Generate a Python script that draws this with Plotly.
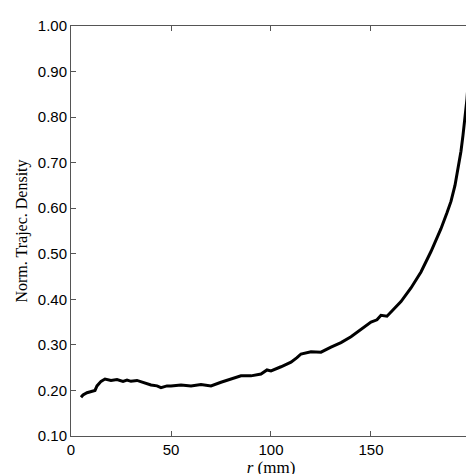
import plotly.graph_objects as go

# rayon (mm) et densité normalisée
r_mm = [5, 6, 8, 10, 12, 13, 15, 17, 20, 23, 26, 28, 30, 33, 36, 40, 43, 45, 48, 50,
        55, 60, 65, 70, 75, 80, 85, 90, 95, 98, 100, 105, 110, 113, 115, 120, 125,
        130, 135, 140, 145, 150, 153, 155, 158, 160, 165, 170, 175, 180, 183, 185,
        188, 190, 192, 194, 195, 196, 197, 198, 199, 199.5, 200]
density = [0.185, 0.19, 0.195, 0.198, 0.2, 0.21, 0.22, 0.225, 0.222, 0.224, 0.22, 0.223,
           0.22, 0.222, 0.218, 0.212, 0.21, 0.206, 0.21, 0.21, 0.212, 0.21, 0.213, 0.21,
           0.218, 0.225, 0.232, 0.232, 0.236, 0.245, 0.243, 0.252, 0.262, 0.272, 0.28,
           0.285, 0.284, 0.295, 0.305, 0.318, 0.335, 0.35, 0.355, 0.365, 0.363, 0.372,
           0.395, 0.425, 0.46, 0.505, 0.535, 0.555, 0.59, 0.615, 0.65, 0.7, 0.725,
           0.76, 0.8, 0.84, 0.9, 0.94, 1.0]

GRIS = "#555555"

fig = go.Figure(go.Scatter(x=r_mm, y=density, mode="lines", cliponaxis=False,
                           line=dict(color="black", width=3), showlegend=False))
axe = dict(showgrid=False, zeroline=False, showline=True, mirror="ticks",
           linecolor=GRIS, linewidth=1, ticks="inside", ticklen=5, tickcolor=GRIS,
           tickfont=dict(family="Liberation Sans", size=15, color="black"))
fig.update_xaxes(range=[0, 200.01], tickvals=[0, 50, 100, 150, 200], **axe,
                 title=dict(text="<i>r</i> (mm)", standoff=2,
                            font=dict(family="Liberation Serif", size=17, color="black")))
fig.update_yaxes(range=[0.1, 1.0], dtick=0.1, tickformat=".2f", **axe,
                 title=dict(text="Norm. Trajec. Density", standoff=6,
                            font=dict(family="Liberation Serif", size=16, color="black")))
fig.update_layout(width=474, height=474, plot_bgcolor="white", paper_bgcolor="white",
                  margin=dict(l=63, r=11, t=9, b=46))
fig.write_html("out.html")
